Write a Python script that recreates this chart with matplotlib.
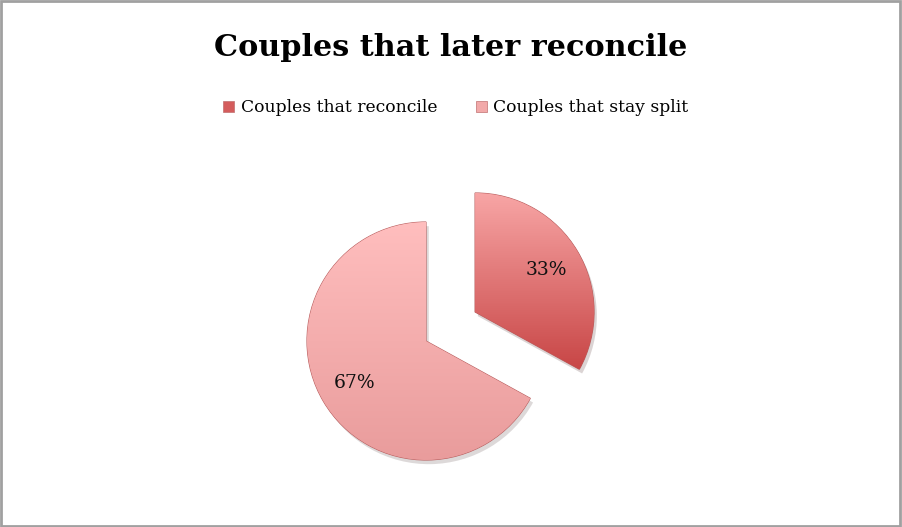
import numpy as np
import matplotlib
matplotlib.use("Agg")
import matplotlib.pyplot as plt
from matplotlib.patches import Patch, Rectangle
import matplotlib.patheffects as pe

# data
labels = ["Couples that reconcile", "Couples that stay split"]
shares = [33, 67]
title = "Couples that later reconcile"

# gradient colours (top, bottom) per slice
top_cols = ["#f8a6a6", "#ffbebe"]
bot_cols = ["#c84646", "#e99c9c"]
legend_cols = ["#d45c5c", "#f2a9a9"]

W, H = 902, 527
fig = plt.figure(figsize=(W / 100, H / 100), dpi=100)
ax = fig.add_axes([0, 0, 1, 1])

R = 119
wedges, texts, autotexts = ax.pie(
    shares, center=(426, H - 341), radius=R, startangle=90, counterclock=False,
    explode=[57, 0], autopct="%1.0f%%", pctdistance=0.70,
    wedgeprops=dict(linewidth=0.8, edgecolor="#b86060"),
    textprops=dict(fontsize=13.5, family="DejaVu Serif", color="#111111"),
    frame=True,
)
ax.set_xlim(0, W)
ax.set_ylim(0, H)
ax.set_aspect("equal")
ax.axis("off")


def vgrad(c1, c2, n=256):
    a = np.array(matplotlib.colors.to_rgb(c1))
    b = np.array(matplotlib.colors.to_rgb(c2))
    t = np.linspace(0, 1, n)[:, None]
    return (a * (1 - t) + b * t)[:, None, :]


for w, c1, c2 in zip(wedges, top_cols, bot_cols):
    w.set_path_effects([pe.SimplePatchShadow(offset=(2, -3), alpha=0.18), pe.Normal()])
    w.set_facecolor(c2)
    bb = w.get_path().get_extents(w.get_patch_transform())
    ext = [bb.x0, bb.x1, bb.y0, bb.y1]
    im = ax.imshow(vgrad(c1, c2), extent=ext, origin="upper", aspect="auto", zorder=w.get_zorder() + 0.1)
    im.set_clip_path(w)
for t in autotexts:
    t.set_zorder(5)

fig.text(451 / W, 1 - 47 / H, title, ha="center", va="center",
         fontsize=21.8, fontweight="bold", family="DejaVu Serif")

handles = [Patch(facecolor=c, edgecolor="#c07070", linewidth=0.5) for c in legend_cols]
fig.legend(handles, labels, loc="center", bbox_to_anchor=(456 / W, 1 - 108 / H),
           ncol=2, frameon=False, handlelength=0.6, handleheight=0.6,
           handletextpad=0.4, columnspacing=2.3,
           prop=dict(family="DejaVu Serif", size=12.3))

fig.patches.append(Rectangle((0.001, 0.002), 0.997, 0.996, transform=fig.transFigure,
                             fill=False, edgecolor="#a0a0a0", linewidth=2))

fig.savefig("out.png", dpi=100)
